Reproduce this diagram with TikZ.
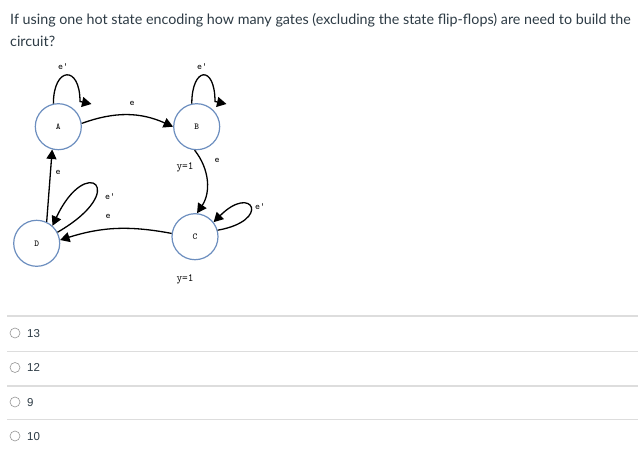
\documentclass[tikz,border=0pt]{standalone}
\usepackage{fontspec}
\setmainfont{Lato}
\newfontfamily\optfont{Liberation Sans}
\usepackage{tikz}
\usetikzlibrary{arrows.meta,positioning}
\usepackage{xcolor}
\definecolor{stateblue}{RGB}{108,142,191}
\definecolor{rulegray}{RGB}{221,221,221}
\definecolor{radiogray}{RGB}{150,150,150}
\definecolor{qtext}{RGB}{45,59,69}
\tikzstyle{trans} = [line width=1.3pt,-{Triangle[length=9.5pt,width=10pt]},color=black]
\tikzstyle{state} = [circle, draw=stateblue, line width=1.2pt, fill=white, minimum size=46pt, inner sep=0pt, font=\ttfamily\fontsize{9}{9}\selectfont]
\tikzstyle{lbl} = [inner sep=1pt, font=\ttfamily\fontsize{9.5}{10}\selectfont]
\tikzstyle{ylbl} = [inner sep=1pt, font=\ttfamily\fontsize{11}{11}\selectfont]
\tikzstyle{radio} = [circle, draw=radiogray, line width=0.6pt, minimum size=10pt, inner sep=0pt]
\tikzstyle{answer} = [anchor=base west, inner sep=0pt, text=qtext, font=\optfont\fontsize{11.5}{12}\selectfont]
\tikzstyle{question} = [anchor=base west, inner sep=0pt, text=qtext, font=\fontsize{14.3}{16}\selectfont]

\begin{document}
\begin{tikzpicture}[x=1pt, y=1pt]
    \fill[white] (0,0) rectangle (638,-452);
    \useasboundingbox (0,0) rectangle (638,-452);

    % Question
    \node[question] (q1) at (10,-25) {If using one hot state encoding how many gates (excluding the state flip-flops) are need to build the};
    \node[question] (q2) at (10,-47) {circuit?};

    % States
    \node[state] (A) at (58.3,-126.7) {A};
    \node[state] (B) at (196.7,-126.7) {B};
    \node[state] (C) at (195,-236.7) {C};
    \node[state] (D) at (36.7,-243.3) {D};
    \coordinate (Aloop) at (91.5,-104);
    \coordinate (Bloop) at (226.5,-104);

    % Transitions
    \draw[trans] (A.102) .. controls +(90:37) and +(90:37) .. (80,-101.5) -- (Aloop);
    \draw[trans] (B.102) .. controls +(90:37) and +(90:37) .. (215,-101.5) -- (Bloop);
    \draw[trans] (A.8) to[bend left=22] (B.180);
    \draw[trans] (B.-95) to[bend left=36] (C.85);
    \draw[trans] (C.16) .. controls +(10:55) and +(45:55) .. (C.38);
    \draw[trans] (C.172) to[bend right=14] (D.8);
    \draw[trans] (D.28) .. controls +(30:85) and +(65:80) .. (D.48);
    \draw[trans] (D.65) -- (A.255);

    % Labels
    \node[lbl] (lAA) at (63,-66.5) {e\textquotesingle};
    \node[lbl] (lBB) at (202,-66.5) {e\textquotesingle};
    \node[lbl] (lAB) at (132,-103) {e};
    \node[lbl] (lBC) at (217,-160) {e};
    \node[lbl] (lCC) at (260,-207) {e\textquotesingle};
    \node[lbl] (lCD) at (108,-216.5) {e};
    \node[lbl] (lDD) at (110,-197) {e\textquotesingle};
    \node[lbl] (lDA) at (58,-172) {e};
    \node[ylbl] (yB) at (185,-167) {y=1};
    \node[ylbl] (yC) at (185,-279) {y=1};

    % Answers
    \foreach \ypos in {316,351.5,386,419.5}
        \draw[rulegray, line width=1.2pt] (7,-\ypos) -- (638,-\ypos);
    \node[radio] (r1) at (15,-333) {};
    \node[radio] (r2) at (15,-367.5) {};
    \node[radio] (r3) at (15,-402) {};
    \node[radio] (r4) at (15,-436) {};
    \node[answer] (a1) at (27,-337.3) {13};
    \node[answer] (a2) at (27,-371.8) {12};
    \node[answer] (a3) at (27,-406.3) {9};
    \node[answer] (a4) at (27,-440.3) {10};
\end{tikzpicture}
\end{document}
